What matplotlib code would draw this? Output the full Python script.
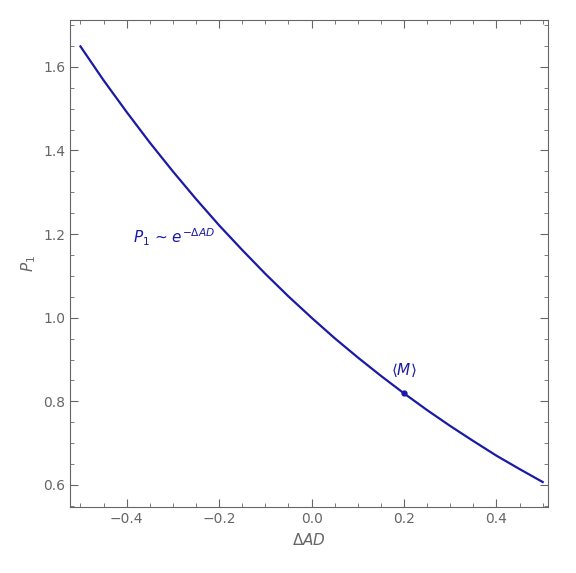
import matplotlib
matplotlib.use("Agg")
import matplotlib.pyplot as plt
from matplotlib.ticker import MultipleLocator

# values
delta_ad = [-0.50, -0.45, -0.40, -0.35, -0.30, -0.25, -0.20, -0.15, -0.10, -0.05, 0.00,
            0.05, 0.10, 0.15, 0.20, 0.25, 0.30, 0.35, 0.40, 0.45, 0.50]
p1 = [1.649, 1.568, 1.492, 1.419, 1.350, 1.284, 1.221, 1.162, 1.105, 1.051, 1.000,
      0.951, 0.905, 0.861, 0.819, 0.779, 0.741, 0.705, 0.670, 0.638, 0.607]
point_x, point_y = 0.2, 0.819

gray = "#666666"
blue = "#1a1aa6"

fig = plt.figure(figsize=(5.76, 5.73), dpi=100)
ax = fig.add_axes([0.122, 0.115, 0.829, 0.85])
ax.plot(delta_ad, p1, color=blue, lw=1.6)
ax.plot([point_x], [point_y], "o", color=blue, ms=3.5)
ax.text(point_x, point_y + 0.045, r"$\langle M\rangle$", color=blue, ha="center", fontsize=11)
ax.text(-0.386, 1.179, r"$P_1$ ~ $e^{-\Delta AD}$", color=blue, fontsize=11)

ax.set_xlim(-0.522, 0.511)
ax.set_ylim(0.547, 1.712)
ax.xaxis.set_major_locator(MultipleLocator(0.2))
ax.xaxis.set_minor_locator(MultipleLocator(0.05))
ax.yaxis.set_major_locator(MultipleLocator(0.2))
ax.yaxis.set_minor_locator(MultipleLocator(0.05))
ax.xaxis.set_major_formatter(lambda v, p: f"{v:.1f}".replace("-", "\u2212"))
ax.yaxis.set_major_formatter(lambda v, p: f"{v:.1f}")
ax.tick_params(which="both", direction="in", top=True, right=True, colors=gray, labelsize=10)
ax.tick_params(which="major", length=6)
ax.tick_params(which="minor", length=3)
for s in ax.spines.values():
    s.set_color(gray)
ax.set_xlabel(r"$\Delta AD$", color=gray, fontsize=11)
ax.set_ylabel(r"$P_1$", color=gray, fontsize=11)

fig.savefig("out.png", dpi=100)
